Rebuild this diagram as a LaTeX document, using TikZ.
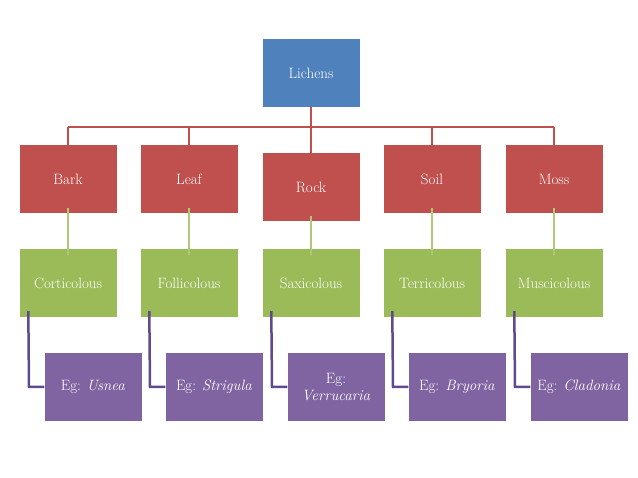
\documentclass[tikz,border=0pt]{standalone}
\definecolor{boxblue}{HTML}{4F81BD}
\definecolor{boxred}{HTML}{C0504D}
\definecolor{boxgreen}{HTML}{9BBB59}
\definecolor{boxpurple}{HTML}{8064A2}
\definecolor{linepurple}{HTML}{5F4B8B}
\tikzset{
  box/.style={minimum width=97pt, minimum height=68pt, inner sep=2pt, text=white, align=center, font=\fontsize{15}{17}\selectfont},
  link/.style={line width=2.5pt}
}
\begin{document}
\begin{tikzpicture}[x=1pt,y=-1pt]
\useasboundingbox (0,0) rectangle (638,478);
\node[box, fill=boxblue] (lichens) at (311,73) {Lichens};
\coordinate (barL) at (68,127);
\coordinate (barR) at (554,127);
\coordinate (barM) at (311,127);

\foreach \name/\x/\yr/\sub/\eg in {
  bark/68/179/Corticolous/{Eg: \textit{Usnea}},
  leaf/189/179/Follicolous/{Eg: \textit{Strigula}},
  rock/311/187/Saxicolous/{Eg:\\ \textit{Verrucaria}},
  soil/432/179/Terricolous/{Eg: \textit{Bryoria}},
  moss/554/179/Muscicolous/{Eg: \textit{Cladonia}}}{
  \node[box, fill=boxred] (\name) at (\x,\yr) {\ifx\name\empty\else\fi};
  \node[box, fill=boxgreen] (\name-g) at (\x,283) {\sub};
  \node[box, fill=boxpurple] (\name-p) at (\x+25,387) {\eg};
  \coordinate (\name-t) at (\x,127);
  \coordinate (\name-e) at (\x-39,387);
  \draw[link, boxred] (\name-t) -- (\name);
  \draw[link, boxgreen!80!white] ([yshift=5pt]\name.south) -- ([yshift=-6pt]\name-g.north);
  \draw[link, linepurple] ([xshift=9pt,yshift=6pt]\name-g.south west) -- (\name-e) -- (\name-p.west);
}
\node[text=white, font=\fontsize{15}{17}\selectfont] at (bark) {Bark};
\node[text=white, font=\fontsize{15}{17}\selectfont] at (leaf) {Leaf};
\node[text=white, font=\fontsize{15}{17}\selectfont] at (rock) {Rock};
\node[text=white, font=\fontsize{15}{17}\selectfont] at (soil) {Soil};
\node[text=white, font=\fontsize{15}{17}\selectfont] at (moss) {Moss};

\draw[link, boxred] (lichens) -- (barM);
\draw[link, boxred] (barL) -- (barR);
\end{tikzpicture}
\end{document}
